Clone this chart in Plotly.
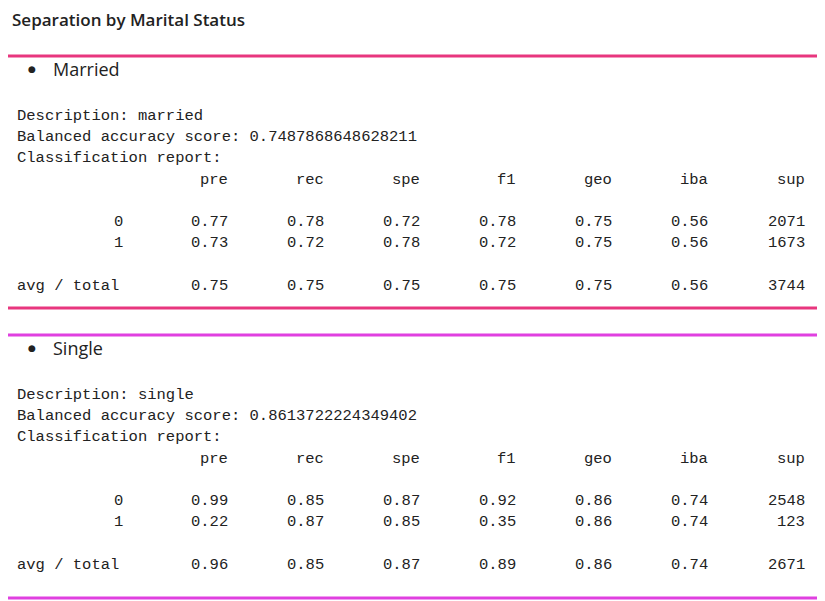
import plotly.graph_objects as go

W, H = 817, 593
OFF = 8
title = "Separation by Marital Status"
groups = ["Married", "Single"]
descriptions = ["married", "single"]
balanced_scores = ["0.7487868648628211", "0.8613722224349402"]
columns = ["pre", "rec", "spe", "f1", "geo", "iba", "sup"]
row_labels = ["0", "1", "avg / total"]
married_rows = [
    ["0.77", "0.78", "0.72", "0.78", "0.75", "0.56", "2071"],
    ["0.73", "0.72", "0.78", "0.72", "0.75", "0.56", "1673"],
    ["0.75", "0.75", "0.75", "0.75", "0.75", "0.56", "3744"],
]
single_rows = [
    ["0.99", "0.85", "0.87", "0.92", "0.86", "0.74", "2548"],
    ["0.22", "0.87", "0.85", "0.35", "0.86", "0.74", "123"],
    ["0.96", "0.85", "0.87", "0.89", "0.86", "0.74", "2671"],
]
border_colors = ["#E8367E", "#E040E0"]

col_right = [229, 325, 421, 517, 613, 709, 806]
MONO = dict(family="Liberation Mono, DejaVu Sans Mono, monospace", size=15.5, color="#222")

fig = go.Figure()
def X(px): return (px - OFF) / W
def Y(py): return 1 - (py - OFF) / H
def txt(px, py, s, font, anchor="left"):
    fig.add_annotation(x=X(px), y=Y(py), xref="paper", yref="paper", text=s, showarrow=False,
                       xanchor=anchor, yanchor="middle", font=font, borderpad=0)

txt(11, 19, title, dict(family="Open Sans, sans-serif", size=17, color="#222", weight=600))

tops = [56, 335]
bottoms = [308, 598]
for g in range(2):
    t = tops[g]
    fig.add_shape(type="rect", xref="paper", yref="paper", x0=X(2.5), x1=X(822.5), y0=Y(t), y1=Y(bottoms[g]),
                  line=dict(color=border_colors[g], width=3))
    txt(27, t + 13, "●", dict(family="DejaVu Sans, sans-serif", size=9, color="#222"))
    txt(52, t + 13, groups[g], dict(family="Open Sans, sans-serif", size=18, color="#222"))
    txt(16, t + 60, "Description: " + descriptions[g], MONO)
    txt(16, t + 81, "Balanced accuracy score: " + balanced_scores[g], MONO)
    txt(16, t + 102, "Classification report:", MONO)
    for c, name in enumerate(columns):
        txt(col_right[c], t + 124, name, MONO, "right")
    rows = married_rows if g == 0 else single_rows
    row_y = [t + 166, t + 187, t + 230]
    for r, lab in enumerate(row_labels):
        if r < 2:
            txt(124, row_y[r], lab, MONO, "right")
        else:
            txt(16, row_y[r], lab, MONO)
        for c, v in enumerate(rows[r]):
            txt(col_right[c], row_y[r], v, MONO, "right")

fig.update_layout(width=W, height=H, margin=dict(l=0, r=0, t=0, b=0),
                  paper_bgcolor="white", plot_bgcolor="white",
                  xaxis=dict(visible=False), yaxis=dict(visible=False))
fig.write_html("out.html")
